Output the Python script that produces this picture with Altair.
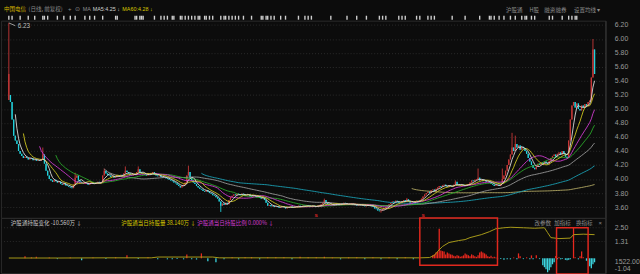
import altair as alt
import pandas as pd

# ---------------- data ----------------
closes = [
    5.50, 5.10, 4.85, 4.62, 4.55, 4.50, 4.40, 4.36, 4.33, 4.30,
    4.32, 4.30, 4.28, 4.30, 4.29, 4.27, 4.28, 4.26, 4.27, 4.26,
    4.28, 4.35, 4.22, 4.12, 4.05, 4.00, 3.98, 3.96, 3.99, 3.97,
    3.95, 3.96, 3.93, 3.92, 3.94, 3.91, 3.90, 3.89, 3.88, 3.87,
    3.92, 4.02, 4.05, 3.98, 3.96, 3.94, 3.93, 3.95, 3.94, 3.92,
    3.93, 3.95, 3.94, 3.93, 3.95, 3.96, 3.94, 3.95, 4.05, 4.12,
    4.08, 4.06, 4.05, 4.03, 4.04, 4.02, 4.03, 4.05, 4.04, 4.06,
    4.05, 4.08, 4.12, 4.10, 4.08, 4.06, 4.05, 4.07, 4.06, 4.10,
    4.14, 4.10, 4.08, 4.07, 4.06, 4.05, 4.07, 4.06, 4.08, 4.10,
    4.06, 4.05, 4.04, 4.05, 4.03, 4.02, 4.03, 4.01, 4.00, 3.99,
    3.98, 3.97, 3.95, 3.94, 3.92, 3.90, 3.88, 3.90, 3.92, 3.95,
    4.05, 4.10, 4.02, 3.98, 3.95, 3.93, 3.90, 3.88, 3.86, 3.85,
    3.83, 3.82, 3.84, 3.82, 3.80, 3.79, 3.77, 3.76, 3.74, 3.72,
    3.68, 3.62, 3.65, 3.63, 3.66, 3.64, 3.70, 3.74, 3.76, 3.78,
    3.77, 3.79, 3.78, 3.77, 3.79, 3.78, 3.76, 3.77, 3.78, 3.76,
    3.75, 3.77, 3.76, 3.74, 3.75, 3.73, 3.72, 3.73, 3.70, 3.66,
    3.62, 3.63, 3.61, 3.62, 3.60, 3.61, 3.60, 3.59, 3.60, 3.61,
    3.60, 3.58, 3.59, 3.60, 3.61, 3.60, 3.59, 3.60, 3.61, 3.62,
    3.61, 3.60, 3.62, 3.61, 3.63, 3.62, 3.60, 3.61, 3.62, 3.61,
    3.60, 3.62, 3.63, 3.64, 3.66, 3.70, 3.66, 3.64, 3.63, 3.62,
    3.64, 3.63, 3.65, 3.64, 3.63, 3.65, 3.64, 3.66, 3.65, 3.64,
    3.63, 3.64, 3.65, 3.64, 3.63, 3.62, 3.63, 3.64, 3.63, 3.62,
    3.61, 3.62, 3.63, 3.62, 3.61, 3.60, 3.58, 3.57, 3.55, 3.54,
    3.55, 3.57, 3.58, 3.60, 3.62, 3.64, 3.66, 3.68, 3.67, 3.69,
    3.68, 3.66, 3.67, 3.68, 3.70, 3.68, 3.71, 3.68, 3.66, 3.67,
    3.66, 3.68, 3.69, 3.68, 3.70, 3.72, 3.75, 3.78, 3.80, 3.82,
    3.80, 3.84, 3.85, 3.83, 3.86, 3.88, 3.90, 3.89, 3.91, 3.92,
    3.90, 3.89, 3.91, 3.90, 3.89, 3.92, 3.96, 3.92, 3.91, 3.90,
    3.92, 3.91, 3.90, 3.92, 3.93, 3.95, 3.98, 3.97, 3.99, 4.00,
    4.02, 3.98, 3.99, 3.97, 3.98, 3.96, 3.97, 3.95, 3.93, 3.92,
    3.90, 3.91, 3.92, 3.90, 3.93, 4.00, 4.05, 4.12, 4.20, 4.28,
    4.35, 4.45, 4.40, 4.50, 4.45, 4.48, 4.42, 4.46, 4.44, 4.40,
    4.36, 4.30, 4.25, 4.20, 4.16, 4.14, 4.18, 4.22, 4.20, 4.24,
    4.22, 4.25, 4.23, 4.21, 4.26, 4.30, 4.33, 4.35, 4.32, 4.36,
    4.38, 4.35, 4.40, 4.36, 4.32, 4.30, 4.55, 4.85, 5.05, 5.10,
    5.02, 5.08, 5.00, 4.98, 5.05, 5.02, 5.07, 5.04, 5.10, 5.12,
    5.45, 5.85, 5.50,
]
open_read = {0: 5.13, 1: 5.20}
high_read = {0: 6.23, 21: 4.45, 41: 4.09, 59: 4.15, 72: 4.18, 80: 4.18, 111: 4.19,
             195: 3.72, 246: 3.73, 276: 3.98, 290: 4.15, 305: 4.15, 311: 4.66,
             313: 4.62, 361: 6.00}
low_read = {0: 5.13, 131: 3.53, 230: 3.52}

ma_periods = [250, 120, 60, 30, 20, 10, 5]
ma_colors = ["#b4aa64", "#1aa0b4", "#9a9a9a", "#2aa82a", "#d23cd2", "#d0c820", "#dcdcdc"]

price_ticks = [3.6, 3.8, 4.0, 4.2, 4.4, 4.6, 4.8, 5.0, 5.2, 5.4, 5.6, 5.8, 6.0, 6.2]

marker_idx = [0, 2, 7, 12, 16, 21, 22, 24, 30, 34, 38, 41, 47, 50, 53, 58, 66, 67, 78, 79,
              81, 82, 83, 90, 94, 96, 98, 101, 102, 106, 107, 109, 111, 113, 115, 117, 118,
              121, 122, 124, 126, 131, 133, 134, 136, 138, 140, 142, 145, 150, 156, 157, 159,
              160, 162, 164, 168, 171, 179, 183, 185, 187, 199, 209, 215, 221, 229, 231, 233,
              241, 243, 245, 252, 254, 259, 261, 263, 274, 282, 291, 297, 298, 300, 303, 306,
              310, 313, 317, 319, 320, 323, 325, 334, 336, 342, 346, 348, 350, 351]
event_idx = [190, 256]

# 沪股通持股变化 (万股)
hc_idx = [10, 14, 17, 25, 30, 38, 45, 52, 60, 66, 73, 80, 86, 92, 98, 101, 104, 108, 110, 113,
          116, 119, 123, 128, 133, 138, 142, 146, 150, 155, 160, 165, 170, 175, 180, 185, 190,
          195, 200, 205, 210, 215, 220, 225, 230, 235, 240, 245, 250,
          262, 263, 264, 265, 266, 267, 268, 269, 270, 271, 272, 273, 274, 275, 276, 277, 278,
          279, 280, 281, 282, 283, 284, 285, 286, 287, 288, 289, 290, 291, 292, 293, 294, 295,
          296, 297, 298, 299, 300, 301,
          302, 304, 306, 308, 310, 312, 314, 315, 316, 318, 320, 322, 323, 324, 326, 328,
          330, 331, 332, 333, 334, 335, 336, 337, 338, 339, 340, 341, 342, 344, 345, 346, 347,
          349, 350, 352, 353, 354, 355, 357, 359, 360, 361, 362]
hc_val = [100, 50, 75, 40, -40, 40, -100, 40, -40, 50, 150, -40, 50, -50, -50, -50, -40, -50, 200, -50,
          -60, 250, -150, -200, -50, 50, -50, 50, 60, -50, 50, 60, 50, -50, 75, 50, 60,
          75, 50, -50, 50, 60, -50, 50, -50, 50, -50, 50, -50,
          150, 200, 300, 350, 1500, 400, 365, 350, 200, 300, 250, 200, 175, 125, 100, 150, 125,
          75, 100, 150, 250, 200, 150, 100, 200, 150, 100, 75, 150, 300, 350, 300, 250, 200,
          100, 75, 125, 50, 75, 40,
          -50, -40, -75, -50, -50, 40, -50, 250, 100, -40, 50, -50, 150, -50, 150, -40,
          -350, -450, -550, -700, -600, -450, -300, -200, 115, -50, 50, -50, -40, -75, -100, -75, -50,
          1550, 50, -50, 100, 350, 50, -125, -400, -500, -300, -200]

# 沪股通当日持股量 (scaled units)
hq_idx = [0, 30, 60, 88, 92, 126, 130, 200, 254, 260, 263, 265, 268, 272, 278, 282, 285, 292,
          297, 301, 306, 310, 318, 325, 331, 333, 335, 340, 347, 349, 355, 362]
hq_val = [3, 3, 5, 5, 13, 13, 5, 5, 5, 8, 30, 70, 120, 160, 180, 190, 210, 240,
          270, 300, 310, 315, 310, 305, 310, 260, 210, 200, 205, 240, 245, 240]

lower_tick_vals = [1550, 850, -150, -500]
lower_tick_text = ["2.50", "1.31", "1522.00", "-1.04"]

box_x0 = [254, 338.5]
box_x1 = [302, 358]
box_y0 = [-350, -800]
box_y1 = [2050, 1550]

# ---------------- frames ----------------
n = len(closes)
opens = [open_read.get(i, closes[i - 1] if i > 0 else closes[0]) for i in range(n)]
highs = [high_read.get(i, max(opens[i], closes[i])) for i in range(n)]
lows = [low_read.get(i, min(opens[i], closes[i])) for i in range(n)]
candles = pd.DataFrame({
    "idx": list(range(n)), "open": opens, "close": closes, "high": highs, "low": lows,
    "dir": ["up" if closes[i] >= opens[i] else "down" for i in range(n)],
})

s = pd.Series(closes)
ma_rows = []
for p in ma_periods:
    m = s.rolling(p).mean()
    for i, v in m.items():
        if pd.notna(v):
            ma_rows.append({"idx": i, "ma": f"MA{p}", "value": v})
ma_df = pd.DataFrame(ma_rows)

hc_df = pd.DataFrame({"idx": hc_idx, "val": hc_val,
                      "sign": ["pos" if v >= 0 else "neg" for v in hc_val]})
hq_df = pd.DataFrame({"idx": hq_idx, "q": hq_val})
box_df = pd.DataFrame({"x0": box_x0, "x1": box_x1, "y0": box_y0, "y1": box_y1})

# ---------------- styling ----------------
BG = "#0c0c0c"
CJK = "Noto Sans CJK SC"
NUMF = "Liberation Sans"
UP = "#c83838"
DOWN = "#22d2dc"
W, H1, H2 = 613, 200, 56

xs = alt.Scale(domain=[-1.8, 365.7], nice=False, zero=False)
X = alt.X("idx:Q", scale=xs, axis=None)
py = alt.Scale(domain=[3.445, 6.262], nice=False, zero=False)
main_axis = alt.Axis(orient="right", values=price_ticks, format=".2f", grid=True,
                     gridColor="#2c2c2c", gridDash=[1, 2], labelColor="#9a9a9a",
                     labelFontSize=7, labelFont=NUMF, labelPadding=9, ticks=False,
                     domainColor="#3a3a3a", title=None, labelOverlap=False)


def label(text, x, y, color, size=5.6, font=CJK, align="left"):
    return alt.Chart(pd.DataFrame({"t": [text]})).mark_text(
        align=align, baseline="middle", fontSize=size, font=font, color=color
    ).encode(x=alt.value(x), y=alt.value(y), text="t:N")


dir_color = alt.Color("dir:N", scale=alt.Scale(domain=["up", "down"], range=[UP, DOWN]), legend=None)

wick = alt.Chart(candles).mark_rule(strokeWidth=0.9).encode(
    x=X, y=alt.Y("low:Q", scale=py, axis=main_axis), y2="high:Q", color=dir_color)
body = alt.Chart(candles).mark_bar(size=1.3).encode(
    x=X, y=alt.Y("open:Q", scale=py, axis=main_axis), y2="close:Q", color=dir_color)
ma_lines = alt.Chart(ma_df).mark_line(strokeWidth=0.9).encode(
    x=X, y=alt.Y("value:Q", scale=py, axis=main_axis),
    color=alt.Color("ma:N", scale=alt.Scale(domain=[f"MA{p}" for p in ma_periods], range=ma_colors),
                    legend=None),
    order="idx:Q")

markers = alt.Chart(pd.DataFrame({"idx": marker_idx})).mark_bar(size=1.4, color="#d0d0d0").encode(
    x=X, y=alt.value(-5), y2=alt.value(-1))

events = alt.Chart(pd.DataFrame({"idx": event_idx, "p": [3.49, 3.49], "t": ["s", "s"]})).mark_text(
    fontSize=6, color="#e02828", font=NUMF, fontWeight="bold").encode(
    x=X, y=alt.Y("p:Q", scale=py, axis=main_axis), text="t:N")

hi_df = pd.DataFrame({"idx": [0], "idx2": [4], "p": [6.23], "p2": [6.19], "t": ["6.23"]})
hi_rule = alt.Chart(hi_df).mark_rule(color="#bfbfbf", strokeWidth=0.8).encode(
    x=X, x2="idx2:Q", y=alt.Y("p:Q", scale=py, axis=main_axis), y2="p2:Q")
hi_text = alt.Chart(hi_df).mark_text(align="left", dx=9, dy=3, fontSize=6.5, font=NUMF,
                                     color="#bfbfbf").encode(
    x=X, y=alt.Y("p:Q", scale=py, axis=main_axis), text="t:N")

spacer = alt.Chart(pd.DataFrame({"a": [0]})).mark_rule(strokeOpacity=0, strokeWidth=0).encode(
    x=alt.value(0), x2=alt.value(640), y=alt.value(-18))

header = [
    label("中国电信", 3, -12, "#d2b400"),
    label("(日线, 前复权)", 28, -12, "#8c8c8c"),
    label("+", 68, -12, "#8c8c8c", size=6, font=NUMF),
    label("⊙", 75, -12, "#8c8c8c", size=6, font=NUMF),
    label("MA", 83, -12, "#8c8c8c", size=5.5, font=NUMF),
    label("MA5:4.25 ↓", 93, -12, "#d0d0d0", size=5.5, font=NUMF),
    label("MA60:4.28 ↓", 123, -12, "#d8c800", size=5.5, font=NUMF),
    label("沪股通", 512, -11, "#8c8c8c"),
    label("H股", 536, -11, "#8c8c8c"),
    label("融资融券", 551, -11, "#8c8c8c"),
    label("设置均线 ▾", 581, -11, "#8c8c8c"),
]

main = alt.layer(
    spacer, wick, body, ma_lines, markers, events, hi_rule, hi_text, *header
).properties(width=W, height=H1).resolve_scale(color="independent")

# ---------------- lower panel ----------------
ly = alt.Scale(domain=[-750, 2050], nice=False, zero=False)
lq = alt.Scale(domain=[-150, 410], nice=False, zero=False)
label_expr = " : ".join(
    f"datum.value == {v} ? '{t}'" for v, t in zip(lower_tick_vals[:-1], lower_tick_text[:-1])
) + f" : '{lower_tick_text[-1]}'"
lower_axis = alt.Axis(orient="right", values=lower_tick_vals, labelExpr=label_expr, grid=False,
                      ticks=False, labelColor="#9a9a9a", labelFontSize=7, labelFont=NUMF,
                      labelPadding=9, domainColor="#3a3a3a", title=None, labelOverlap=False)

lgrid = alt.Chart(pd.DataFrame({"v": [1550, 850]})).mark_rule(
    strokeDash=[1, 2], color="#2c2c2c", strokeWidth=1).encode(
    y=alt.Y("v:Q", scale=ly, axis=None))
lbars = alt.Chart(hc_df).mark_bar(size=1.3).encode(
    x=X, y=alt.Y("val:Q", scale=ly, axis=lower_axis), y2=alt.datum(0),
    color=alt.Color("sign:N", scale=alt.Scale(domain=["pos", "neg"], range=["#e8281e", "#3cd6e0"]),
                    legend=None))
lline = alt.Chart(hq_df).mark_line(color="#a89a18", strokeWidth=1).encode(
    x=X, y=alt.Y("q:Q", scale=lq, axis=None))
lboxes = alt.Chart(box_df).mark_rect(fillOpacity=0, stroke="#e0281e", strokeWidth=1.5).encode(
    x=alt.X("x0:Q", scale=xs, axis=None), x2="x1:Q",
    y=alt.Y("y0:Q", scale=ly, axis=None), y2="y1:Q")

lheader = [
    label("沪股通持股变化 -10.560万 ↓", 10, 5, "#c8c8c8"),
    label("沪股通当日持股量 38.140万 ↓", 122, 5, "#d8c800"),
    label("沪股通当日持股比例 0.000% ↓", 199, 5, "#d23cd2"),
    label("改参数", 541, 5, "#8c8c8c"),
    label("加指标", 561, 5, "#8c8c8c"),
    label("换指标", 583, 5, "#8c8c8c"),
    label("×", 606, 5, "#8c8c8c", size=6, font=NUMF),
]

lower = alt.layer(lgrid, lbars, lline, lboxes, *lheader).properties(
    width=W, height=H2).resolve_scale(y="independent", color="independent")

chart = alt.vconcat(main, lower, spacing=0, bounds="flush").properties(
    background=BG, padding=0
).configure_view(stroke="#2a2a2a", strokeWidth=1)

chart.save("out.html", embed_options={"renderer": "svg", "actions": False})
